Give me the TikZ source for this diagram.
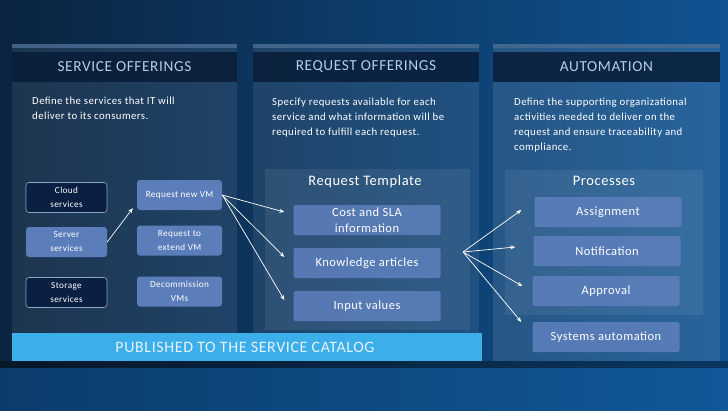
\documentclass[tikz,border=0pt]{standalone}
\usepackage{fontspec}
\setmainfont[LetterSpace=4]{Carlito}
\usepackage{xcolor}
\usetikzlibrary{arrows.meta, positioning}

\definecolor{bgleft}{HTML}{0A2440}
\definecolor{bgright}{HTML}{105392}
\definecolor{bandleft}{HTML}{0C3C6C}
\definecolor{bandright}{HTML}{105898}
\definecolor{hdrnavy}{HTML}{081C38}
\definecolor{hdrtext}{HTML}{B4CDEA}
\definecolor{topstrip}{HTML}{4A6C92}
\definecolor{tilefill}{HTML}{5B7EBA}
\definecolor{darktile}{HTML}{0A1F42}
\definecolor{tileedge}{HTML}{8EA6C6}
\definecolor{bannerblue}{HTML}{3CAEE9}
\definecolor{bannertext}{HTML}{E6F3FF}

\begin{document}
\begin{tikzpicture}[x=1pt, y=-1pt, >={Stealth[length=5pt, width=4pt]},
    hdr/.style={fill=hdrnavy, fill opacity=0.85, text opacity=1, text=hdrtext,
        font=\fontsize{15.3}{17}\selectfont, minimum height=30pt, inner sep=0pt},
    desc/.style={text=white, font=\fontsize{10.8}{15}\selectfont, align=left,
        anchor=north west, inner sep=0pt},
    tile/.style={fill=tilefill, rounded corners=3pt, text=white,
        font=\fontsize{9.2}{14}\selectfont, align=center,
        minimum height=30pt, inner sep=1pt},
    darktile/.style={tile, fill=darktile, draw=tileedge, line width=0.6pt},
    item/.style={fill=tilefill, fill opacity=0.9, text opacity=1, rounded corners=2pt,
        text=white, font=\fontsize{12.5}{16.5}\selectfont, align=center,
        minimum width=147pt, minimum height=30pt, inner sep=1pt},
    boxtitle/.style={text=white, font=\fontsize{14.5}{16}\selectfont, inner sep=0pt},
    link/.style={->, white, line width=0.7pt}]
    \useasboundingbox (0,0) rectangle (728,410);
    % Background
    \shade[left color=bgleft, right color=bgright] (0,0) rectangle (728,410);
    \fill[black, opacity=0.35] (0,361) rectangle (728,368);
    \shade[left color=bandleft, right color=bandright] (0,368) rectangle (728,410);
    % Panels
    \fill[white, opacity=0.08] (12,44) rectangle (237,333);
    \fill[white, opacity=0.08] (253,44) rectangle (479,333);
    \fill[white, opacity=0.10] (493,44) rectangle (720,361);
    \foreach \xa/\xb in {12/237, 253/479, 493/720}
        \fill[topstrip, opacity=0.8] (\xa,44) rectangle (\xb,48);
    \node[hdr, minimum width=225pt] (svchdr) at (124.5,67) {SERVICE OFFERINGS};
    \node[hdr, minimum width=226pt] (reqhdr) at (366,67) {REQUEST OFFERINGS};
    \node[hdr, minimum width=227pt] (autohdr) at (606.5,67) {AUTOMATION};
    % Descriptions
    \node[desc] (svcdesc) at (32,97) {Define the services that IT will\\deliver to its consumers.};
    \node[desc] (reqdesc) at (272,98) {Specify requests available for each\\service and what information will be\\required to fulfill each request.};
    \node[desc] (autodesc) at (514,98) {Define the supporting organizational\\activities needed to deliver on the\\request and ensure traceability and\\compliance.};
    % Service tiles
    \node[darktile, minimum width=81pt] (cloud) at (66.5,197.5) {Cloud\\services};
    \node[tile, minimum width=81pt] (server) at (66.5,242) {Server\\services};
    \node[darktile, minimum width=81pt] (storage) at (66.5,292.5) {Storage\\services};
    \node[tile, minimum width=85pt] (reqnew) at (179.5,195) {Request new VM};
    \node[tile, minimum width=85pt] (extend) at (179.5,240.5) {Request to\\extend VM};
    \node[tile, minimum width=85pt] (decom) at (179.5,291.5) {Decommission\\VMs};
    % Request template
    \fill[white, opacity=0.07] (265,169) rectangle (470,330);
    \node[boxtitle] (tmpl) at (365,182) {Request Template};
    \node[item] (cost) at (367,220) {Cost and SLA\\information};
    \node[item] (know) at (367,263) {Knowledge articles};
    \node[item] (input) at (367,306) {Input values};
    \coordinate (fan) at (463,252);
    % Processes
    \fill[white, opacity=0.07] (505,170) rectangle (703,315);
    \node[boxtitle] (proc) at (604,181) {Processes};
    \node[item] (assign) at (608,212) {Assignment};
    \node[item] (notify) at (607,251) {Notification};
    \node[item] (approve) at (606,291) {Approval};
    \node[item] (sysauto) at (606,337) {Systems automation};
    % Banner
    \fill[bannerblue] (12,333) rectangle (482,361);
    \node[text=bannertext, font=\fontsize{15.9}{17}\selectfont, inner sep=0pt] (banner) at (245,347.5) {PUBLISHED TO THE SERVICE CATALOG};
    % Arrows
    \draw[link] (server.east) -- ([shift={(-4,-2)}]reqnew.south west);
    \draw[link] (reqnew.east) -- ([shift={(-9,-8)}]cost.west);
    \draw[link] (reqnew.east) -- ([shift={(-9,-6)}]know.west);
    \draw[link] (reqnew.east) -- ([shift={(-9,-6)}]input.west);
    \draw[link] (fan) -- ([shift={(-13,-2)}]assign.west);
    \draw[link] (fan) -- ([shift={(-18,-4)}]notify.west);
    \draw[link] (fan) -- ([shift={(-10,-5)}]approve.west);
    \draw[link] (fan) -- ([shift={(-11,-15)}]sysauto.west);
\end{tikzpicture}
\end{document}
